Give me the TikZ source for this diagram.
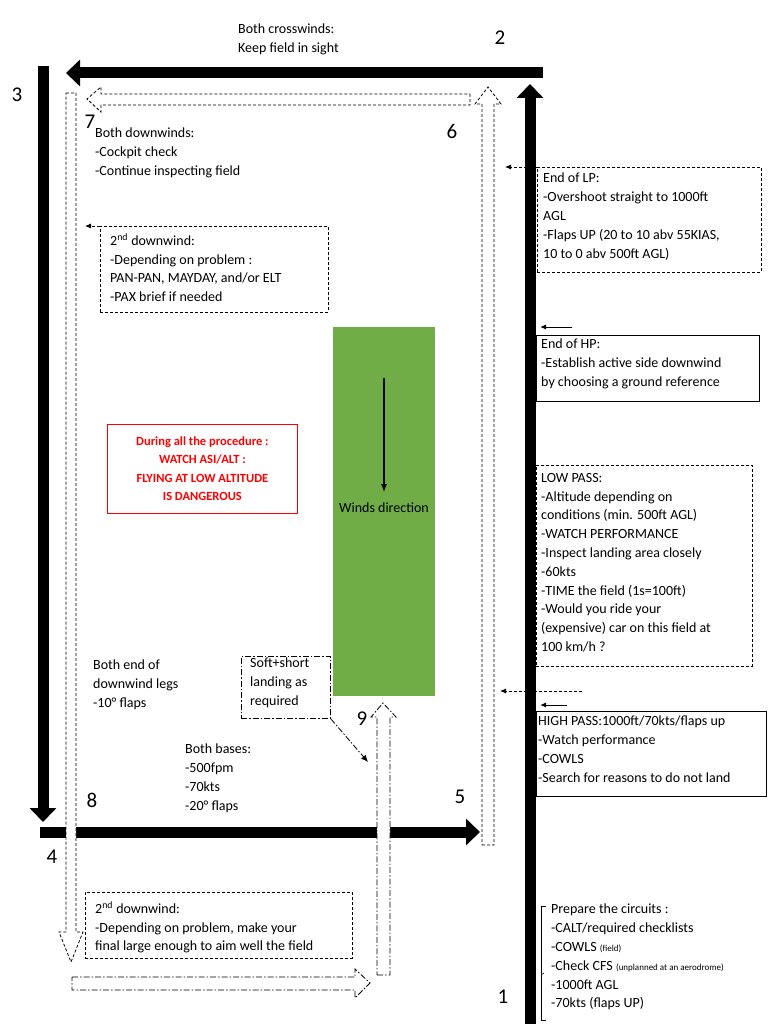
\documentclass[tikz,border=0pt]{standalone}
\usepackage{fontspec}
\setmainfont{Carlito}
\usetikzlibrary{arrows.meta}
\begin{document}
\begin{tikzpicture}[x=1pt,y=-1pt,
  big/.style={line width=11pt,-{Triangle[length=14pt,width=26pt]}},
  hol/.style={draw,line width=0.8pt,dash pattern=on 3pt off 2pt},
  holdd/.style={draw,line width=0.8pt,dash pattern=on 6pt off 2pt on 1.5pt off 2pt},
  txt/.style={anchor=north west,align=left,font=\fontsize{14}{18.8}\selectfont,inner sep=0pt},
  num/.style={font=\fontsize{21}{24}\selectfont,inner sep=0pt},
  dbox/.style={draw,line width=0.8pt,dash pattern=on 3pt off 2pt},
  ddbox/.style={draw,line width=0.8pt,dash pattern=on 6pt off 2pt on 1.5pt off 2pt},
  sbox/.style={draw,line width=0.9pt},
  darr/.style={line width=0.8pt,dash pattern=on 3pt off 2pt,-{Latex[length=6pt,width=5pt]}},
  sarr/.style={line width=1pt,-{Latex[length=6pt,width=5pt]}},
  ddarr/.style={line width=0.8pt,dash pattern=on 6pt off 2pt on 1.5pt off 2pt,-{Latex[length=7pt,width=6pt]}}]
\useasboundingbox (0,0) rectangle (768,1024);
% field
\fill[fill={rgb,255:red,112;green,173;blue,71}] (333,327) rectangle (435,696);
\coordinate (wa) at (384,378); \coordinate (wb) at (384,492);
\draw[line width=1.3pt,-{Latex[length=8pt,width=6pt]}] (wa) -- (wb);
\node[txt,anchor=center] (wd) at (384,508) {Winds direction};
% thick circuit
\coordinate (p1) at (530,1024); \coordinate (p2) at (530,84);
\coordinate (q1) at (543,73); \coordinate (q2) at (66,73);
\coordinate (r1) at (43,66); \coordinate (r2) at (43,822);
\coordinate (s1) at (40,832); \coordinate (s2) at (480,832);
\draw[big] (p1) -- (p2);
\draw[big] (q1) -- (q2);
\draw[big] (r1) -- (r2);
\draw[big] (s1) -- (s2);
% hollow arrows
\draw[hol,fill=white] (66,93) -- (76,93) -- (76,932) -- (83,932) -- (71,962) -- (59,932) -- (66,932) -- cycle;
\draw[hol,fill=white] (470,94) -- (470,105) -- (101,105) -- (101,112) -- (87,99) -- (101,87) -- (101,94) -- cycle;
\draw[hol,fill=white] (482,845) -- (494,845) -- (494,104) -- (501,104) -- (488,87) -- (475,104) -- (482,104) -- cycle;
\draw[holdd,fill=white] (377,975) -- (390,975) -- (390,717) -- (396,717) -- (383,703) -- (371,717) -- (377,717) -- cycle;
\draw[holdd,fill=white] (72,977) -- (355,977) -- (355,969) -- (370,983) -- (355,998) -- (355,990) -- (72,990) -- cycle;
% numbers
\node[num] (n2) at (500,38) {2};
\node[num] (n3) at (17,95) {3};
\node[num] (n7) at (90,122) {7};
\node[num] (n6) at (452,131) {6};
\node[num] (n8) at (92,800) {8};
\node[num] (n5) at (460,797) {5};
\node[num] (n4) at (52,857) {4};
\node[num] (n9) at (362,719) {9};
\node[num] (n1) at (503,997) {1};
% texts
\node[txt] (cw) at (238,24) {Both crosswinds:\\Keep field in sight};
\node[txt] (dw) at (95,128) {Both downwinds:\\-Cockpit check\\-Continue inspecting field};
\node[dbox,minimum width=228pt,minimum height=86pt,anchor=north west] (b2) at (100,226) {};
\node[txt] at (110,233) {2\textsuperscript{nd} downwind:\\-Depending on problem :\\PAN-PAN, MAYDAY, and/or ELT\\-PAX brief if needed};
\coordinate (b2a) at (85,226);
\draw[darr] (b2.north west) -- (b2a);
\node[dbox,minimum width=224pt,minimum height=105pt,anchor=north west] (lp) at (537,167) {};
\node[txt] at (543,173) {End of LP:\\-Overshoot straight to 1000ft\\AGL\\-Flaps UP (20 to 10 abv 55KIAS,\\10 to 0 abv 500ft AGL)};
\coordinate (lpa) at (505,167);
\draw[darr] (lp.north west) -- (lpa);
\node[sbox,minimum width=223pt,minimum height=66pt,anchor=north west] (hp) at (536,335) {};
\node[txt] at (541,339) {End of HP:\\-Establish active side downwind\\by choosing a ground reference};
\coordinate (hpa1) at (572,327); \coordinate (hpa2) at (540,327);
\draw[sarr] (hpa1) -- (hpa2);
\node[dbox,minimum width=216pt,minimum height=201pt,anchor=north west] (low) at (536,465) {};
\node[txt] at (541,473) {LOW PASS:\\-Altitude depending on\\conditions (min. 500ft AGL)\\-WATCH PERFORMANCE\\-Inspect landing area closely\\-60kts\\-TIME the field (1s=100ft)\\-Would you ride your\\(expensive) car on this field at\\100 km/h ?};
\coordinate (lwa1) at (582,691); \coordinate (lwa2) at (500,691);
\draw[darr] (lwa1) -- (lwa2);
\node[sbox,minimum width=230pt,minimum height=85pt,anchor=north west] (high) at (536,711) {};
\node[txt] at (538,716) {HIGH PASS:1000ft/70kts/flaps up\\-Watch performance\\-COWLS\\-Search for reasons to do not land};
\coordinate (hia1) at (567,705); \coordinate (hia2) at (540,705);
\draw[sarr] (hia1) -- (hia2);
\node[draw=red,line width=0.8pt,fill=white,minimum width=190pt,minimum height=89pt,anchor=north west] (red) at (107,424) {};
\node[align=center,text=red,font=\bfseries\fontsize{12.5}{18.5}\selectfont,inner sep=0pt] at (red.center) {During all the procedure :\\WATCH ASI/ALT :\\FLYING AT LOW ALTITUDE\\IS DANGEROUS};
\node[txt] (el) at (93,660) {Both end of\\downwind legs\\-10° flaps};
\node[txt] (bb) at (185,744) {Both bases:\\-500fpm\\-70kts\\-20° flaps};
\node[ddbox,minimum width=89pt,minimum height=62pt,anchor=north west] (ss) at (241,656) {};
\node[txt] at (250,658) {Soft+short\\landing as\\required};
\coordinate (ssa) at (368,762);
\draw[ddarr] (ss.south east) -- (ssa);
\node[dbox,minimum width=267pt,minimum height=66pt,anchor=north west] (bd) at (85,892) {};
\node[txt] at (95,901) {2\textsuperscript{nd} downwind:\\-Depending on problem, make your\\final large enough to aim well the field};
\node[txt] (pr) at (551,904) {Prepare the circuits :\\-CALT/required checklists\\-COWLS {\fontsize{9}{10}\selectfont(field)}\\-Check CFS {\fontsize{9}{10}\selectfont(unplanned at an aerodrome)}\\-1000ft AGL\\-70kts (flaps UP)};
\coordinate (k1) at (546,906); \coordinate (k2) at (546,1020);
\draw[line width=0.6pt] (k1) -- ++(-5,0) |- (k2);
\coordinate (k3) at (541,975);
\draw[line width=0.6pt] (k3) -- ++(3,-2);
\end{tikzpicture}
\end{document}
